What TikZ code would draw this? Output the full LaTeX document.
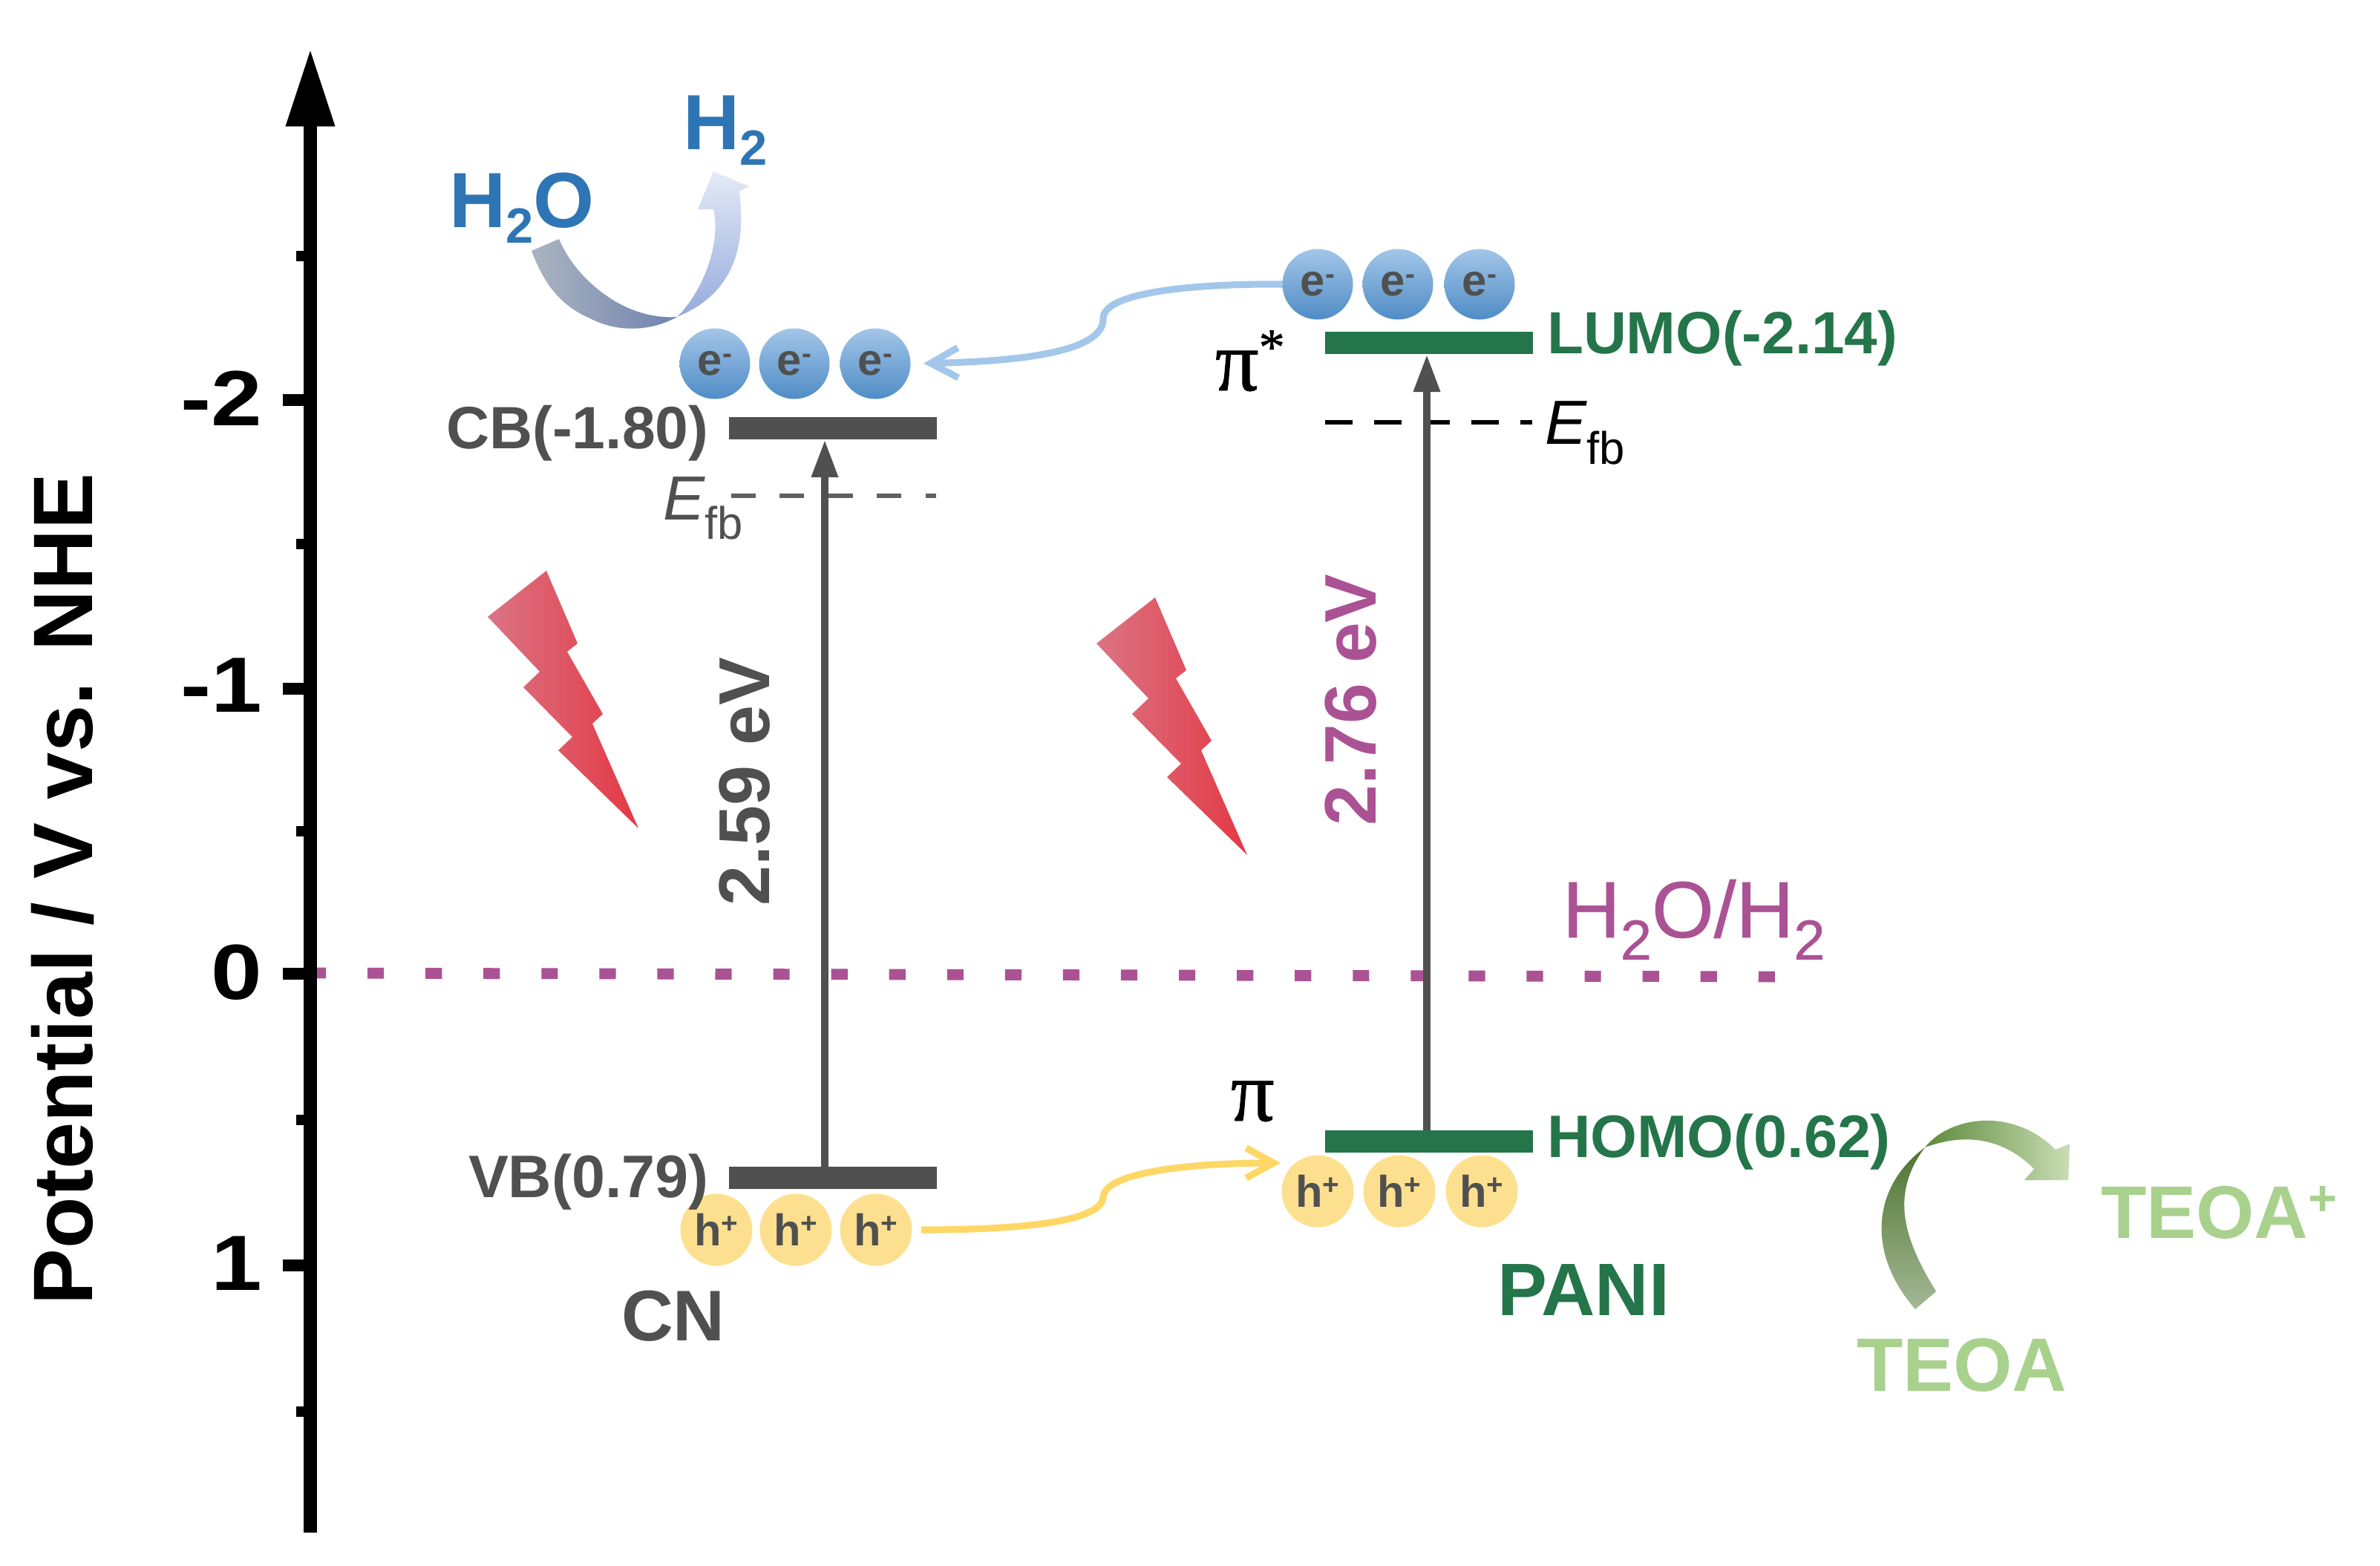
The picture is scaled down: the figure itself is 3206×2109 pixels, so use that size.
\documentclass[tikz,border=0pt]{standalone}
\usepackage{fontspec}
\setmainfont{Liberation Sans}
\newfontfamily\piserif[FakeBold=0.8]{Liberation Serif}
\newfontfamily\semisans[FakeBold=0.7]{Liberation Sans}
\usetikzlibrary{arrows.meta,shapes.geometric}
\newcommand\fsz[1]{\fontsize{#1pt}{#1pt}\selectfont}
\definecolor{cngray}{HTML}{505050}
\definecolor{panigreen}{HTML}{24754A}
\definecolor{purp}{HTML}{AB5295}
\definecolor{wblue}{HTML}{2E75B6}
\definecolor{teoag}{HTML}{A9D18E}
\definecolor{eT}{HTML}{A3C6E8}
\definecolor{eB}{HTML}{4F8CC6}
\definecolor{holeY}{HTML}{FDE08F}
\definecolor{eline}{HTML}{A3C7EA}
\definecolor{yline}{HTML}{FFD766}
\tikzset{
  lab/.style={inner sep=0pt,outer sep=0pt,anchor=base west},
  labe/.style={inner sep=0pt,outer sep=0pt,anchor=base east},
  rotlab/.style={inner sep=0pt,outer sep=0pt,rotate=90,anchor=base},
  bar/.style={inner sep=0pt,outer sep=0pt,minimum width=2.79cm,minimum height=.30cm},
  eball/.style={circle,inner sep=0pt,outer sep=0pt,minimum size=.95cm,top color=eT,bottom color=eB,
     text=cngray,font=\fsz{17}\bfseries},
  hball/.style={circle,inner sep=0pt,outer sep=0pt,minimum size=.97cm,fill=holeY,
     text=cngray,font=\fsz{17}\bfseries},
  gap/.style={-{Triangle[length=14.5pt,width=9.5pt]},line width=3.1pt,cngray},
  major/.style={line width=4.6pt,black},
  minor/.style={line width=4pt,black},
  bluearrow/.style={-{Straight Barb[length=10.5pt,width=11.5pt]},line width=2.6pt,eline},
  yelarrow/.style={-{Straight Barb[length=10.5pt,width=11.5pt]},line width=2.6pt,yline},
}
\newcommand\ticklab[1]{\scalebox{1.17}[1]{\fsz{30}\bfseries #1}}
\begin{document}
\begin{tikzpicture}[x=.01cm,y=-.01cm]
\useasboundingbox (0,0) rectangle (3206,2109);
% reference level
\coordinate (lvlL) at (417,1311);
\coordinate (lvlR) at (2392,1316);
\draw[purp,line width=4.2pt,dash pattern=on 6.3pt off 15.9pt] (lvlL) -- (lvlR);
% axis
\coordinate (axisbot) at (418,2065);
\coordinate (axistop) at (418,65);
\draw[-{Triangle[length=30pt,width=17.5pt]},line width=5.1pt,black] (axisbot) -- (axistop);
\foreach \yy in {539,928,1312,1705} \draw[major] (381,\yy) -- (412,\yy);
\foreach \yy in {345,733,1120,1509,1902} \draw[minor] (399,\yy) -- (412,\yy);
\node[labe] (tm2) at (353,573) {\ticklab{-2}};
\node[labe] (tm1) at (353,959) {\ticklab{-1}};
\node[labe] (t0) at (353,1346) {\ticklab{0}};
\node[labe] (t1) at (353,1738) {\ticklab{1}};
\node[rotlab] (ylab) at (124,1198) {\fsz{32.3}\bfseries Potential / V vs. NHE};
% levels
\node[bar,fill=cngray] (cb) at (1122,577) {};
\node[bar,fill=cngray] (vb) at (1122,1587) {};
\node[bar,fill=panigreen] (lumo) at (1925,462) {};
\node[bar,fill=panigreen] (homo) at (1925,1538) {};
% flat-band
\coordinate (fbCl) at (985,668);
\coordinate (fbCr) at (1261,668);
\coordinate (fbPl) at (1785,569);
\coordinate (fbPr) at (2064,569);
\draw[cngray!90,line width=1.6pt,dash pattern=on 9.4pt off 9.2pt] (fbCl) -- (fbCr);
\draw[black,line width=1.6pt,dash pattern=on 10.5pt off 8.2pt] (fbPl) -- (fbPr);
% gap arrows
\draw[gap] ([xshift=-.11cm]vb.north) -- ([xshift=-.11cm]cb.south);
\draw[gap] ([xshift=-.03cm]homo.north) -- ([xshift=-.03cm]lumo.south);
% carriers
\node[eball] (ec1) at (963,490) {e\raisebox{.28em}{\fsz{11}-}};
\node[eball] (ec2) at (1070,490) {e\raisebox{.28em}{\fsz{11}-}};
\node[eball] (ec3) at (1179,490) {e\raisebox{.28em}{\fsz{11}-}};
\node[eball] (ep1) at (1775,383) {e\raisebox{.28em}{\fsz{11}-}};
\node[eball] (ep2) at (1883,383) {e\raisebox{.28em}{\fsz{11}-}};
\node[eball] (ep3) at (1993,383) {e\raisebox{.28em}{\fsz{11}-}};
\node[hball] (hc1) at (965,1657) {h\raisebox{.28em}{\fsz{11}+}};
\node[hball] (hc2) at (1072,1657) {h\raisebox{.28em}{\fsz{11}+}};
\node[hball] (hc3) at (1180,1657) {h\raisebox{.28em}{\fsz{11}+}};
\node[hball] (hp1) at (1775,1605) {h\raisebox{.28em}{\fsz{11}+}};
\node[hball] (hp2) at (1885,1605) {h\raisebox{.28em}{\fsz{11}+}};
\node[hball] (hp3) at (1996,1605) {h\raisebox{.28em}{\fsz{11}+}};
% transfer arrows
\draw[bluearrow,shorten >=5pt] (ep1.west) .. controls (1620,382) and (1484,392) .. (1486,430)
   .. controls (1486,475) and (1370,487) .. (ec3.east);
\coordinate (ytip) at (1725,1567);
\draw[yelarrow,shorten <=3.5pt] (hc3.east) .. controls (1350,1657) and (1486,1650) .. (1486,1612)
   .. controls (1490,1580) and (1600,1567) .. (ytip);
% water arrow
\path[shade,left color={rgb,255:red,170;green,180;blue,192},right color={rgb,255:red,112;green,130;blue,176}]
  (716,338) -- (753,322) .. controls (775,375) and (840,432) .. (912,427)
  .. controls (880,445) and (835,450) .. (795,429) .. controls (750,410) and (730,375) .. cycle;
\path[shade,bottom color={rgb,255:red,149;green,171;blue,220},top color={rgb,255:red,228;green,234;blue,246}]
  (912,427) .. controls (945,395) and (972,330) .. (961,282) -- (940,282) -- (961,231) -- (1009,251) -- (996,258)
  .. controls (1005,330) and (990,395) .. cycle;
% teoa arrow
\path[shade,bottom color={rgb,255:red,164;green,184;blue,150},top color={rgb,255:red,79;green,116;blue,48}]
  (2580,1764) -- (2608,1740) .. controls (2565,1670) and (2545,1610) .. (2593,1546)
  .. controls (2520,1600) and (2515,1690) .. cycle;
\path[shade,left color={rgb,255:red,95;green,138;blue,61},right color={rgb,255:red,200;green,221;blue,179}]
  (2593,1546) .. controls (2625,1505) and (2710,1490) .. (2769,1549) -- (2788,1541) -- (2786,1590) -- (2727,1590) -- (2740,1575)
  .. controls (2700,1535) and (2650,1525) .. cycle;
% bolts
\def\boltpath{(1477,867) -- (1556,805) -- (1598,903) -- (1584,914) -- (1632,998) -- (1618,1011) -- (1680,1152) -- (1572,1047) -- (1591,1029) -- (1525,962) -- (1547,941) -- cycle}
\path[shade,left color={rgb,255:red,218;green,116;blue,132},right color={rgb,255:red,228;green,56;blue,68}] \boltpath;
\begin{scope}[shift={(-820,-36)}]
\path[shade,left color={rgb,255:red,218;green,116;blue,132},right color={rgb,255:red,228;green,56;blue,68}] \boltpath;
\end{scope}
% labels
\node[lab,text=cngray] (cblab) at (601,604) {\fsz{22.9}\bfseries CB(-1.80)};
\node[lab,text=cngray] (vblab) at (631,1613) {\fsz{23}\bfseries VB(0.79)};
\node[lab,text=cngray] (cnlab) at (837,1806) {\fsz{27.5}\bfseries CN};
\node[lab,text=panigreen] (panilab) at (2017,1772) {\fsz{28.5}\bfseries PANI};
\node[lab,text=panigreen] (lumolab) at (2084,476) {\fsz{22.8}\bfseries LUMO(-2.14)};
\node[lab,text=panigreen] (homolab) at (2084,1559) {\fsz{23}\bfseries HOMO(0.62)};
\node[lab,text=teoag] (teoa) at (2501,1874) {\fsz{29}\bfseries TEOA};
\node[lab,text=teoag] (teoap) at (2830,1668) {\fsz{28.6}\bfseries TEOA\raisebox{.3em}{\fsz{19}+}};
\node[lab,text=wblue] (h2o) at (605,307) {\fsz{30}\bfseries H\raisebox{-5.7pt}{\fsz{19}2}O};
\node[lab,text=wblue] (h2) at (920,202) {\fsz{30}\bfseries H\raisebox{-5.7pt}{\fsz{19}2}};
\node[lab,text=purp] (couple) at (2105,1263) {\semisans\fsz{30.6}H\raisebox{-8.5pt}{\fsz{21.6}2}O/H\raisebox{-8.5pt}{\fsz{21.6}2}};
\node[rotlab,text=cngray] (gapc) at (1036,1053) {\fsz{27.6}\bfseries 2.59 eV};
\node[rotlab,text=purp] (gapp) at (1853,943) {\fsz{28}\bfseries 2.76 eV};
\node[lab,text=cngray] (efbc) at (893,700) {\fsz{23.9}\textit{E}\raisebox{-7.4pt}{\fsz{17.5}fb}};
\node[lab] (efbp) at (2081,598) {\fsz{23.9}\textit{E}\raisebox{-7.9pt}{\fsz{17.5}fb}};
\node[lab] (pistar) at (1637,526) {\piserif\fsz{33}π\raisebox{.3em}{\fsz{20}*}};
\node[lab] (pilow) at (1658,1510) {\piserif\fsz{33}π};
\end{tikzpicture}
\end{document}
